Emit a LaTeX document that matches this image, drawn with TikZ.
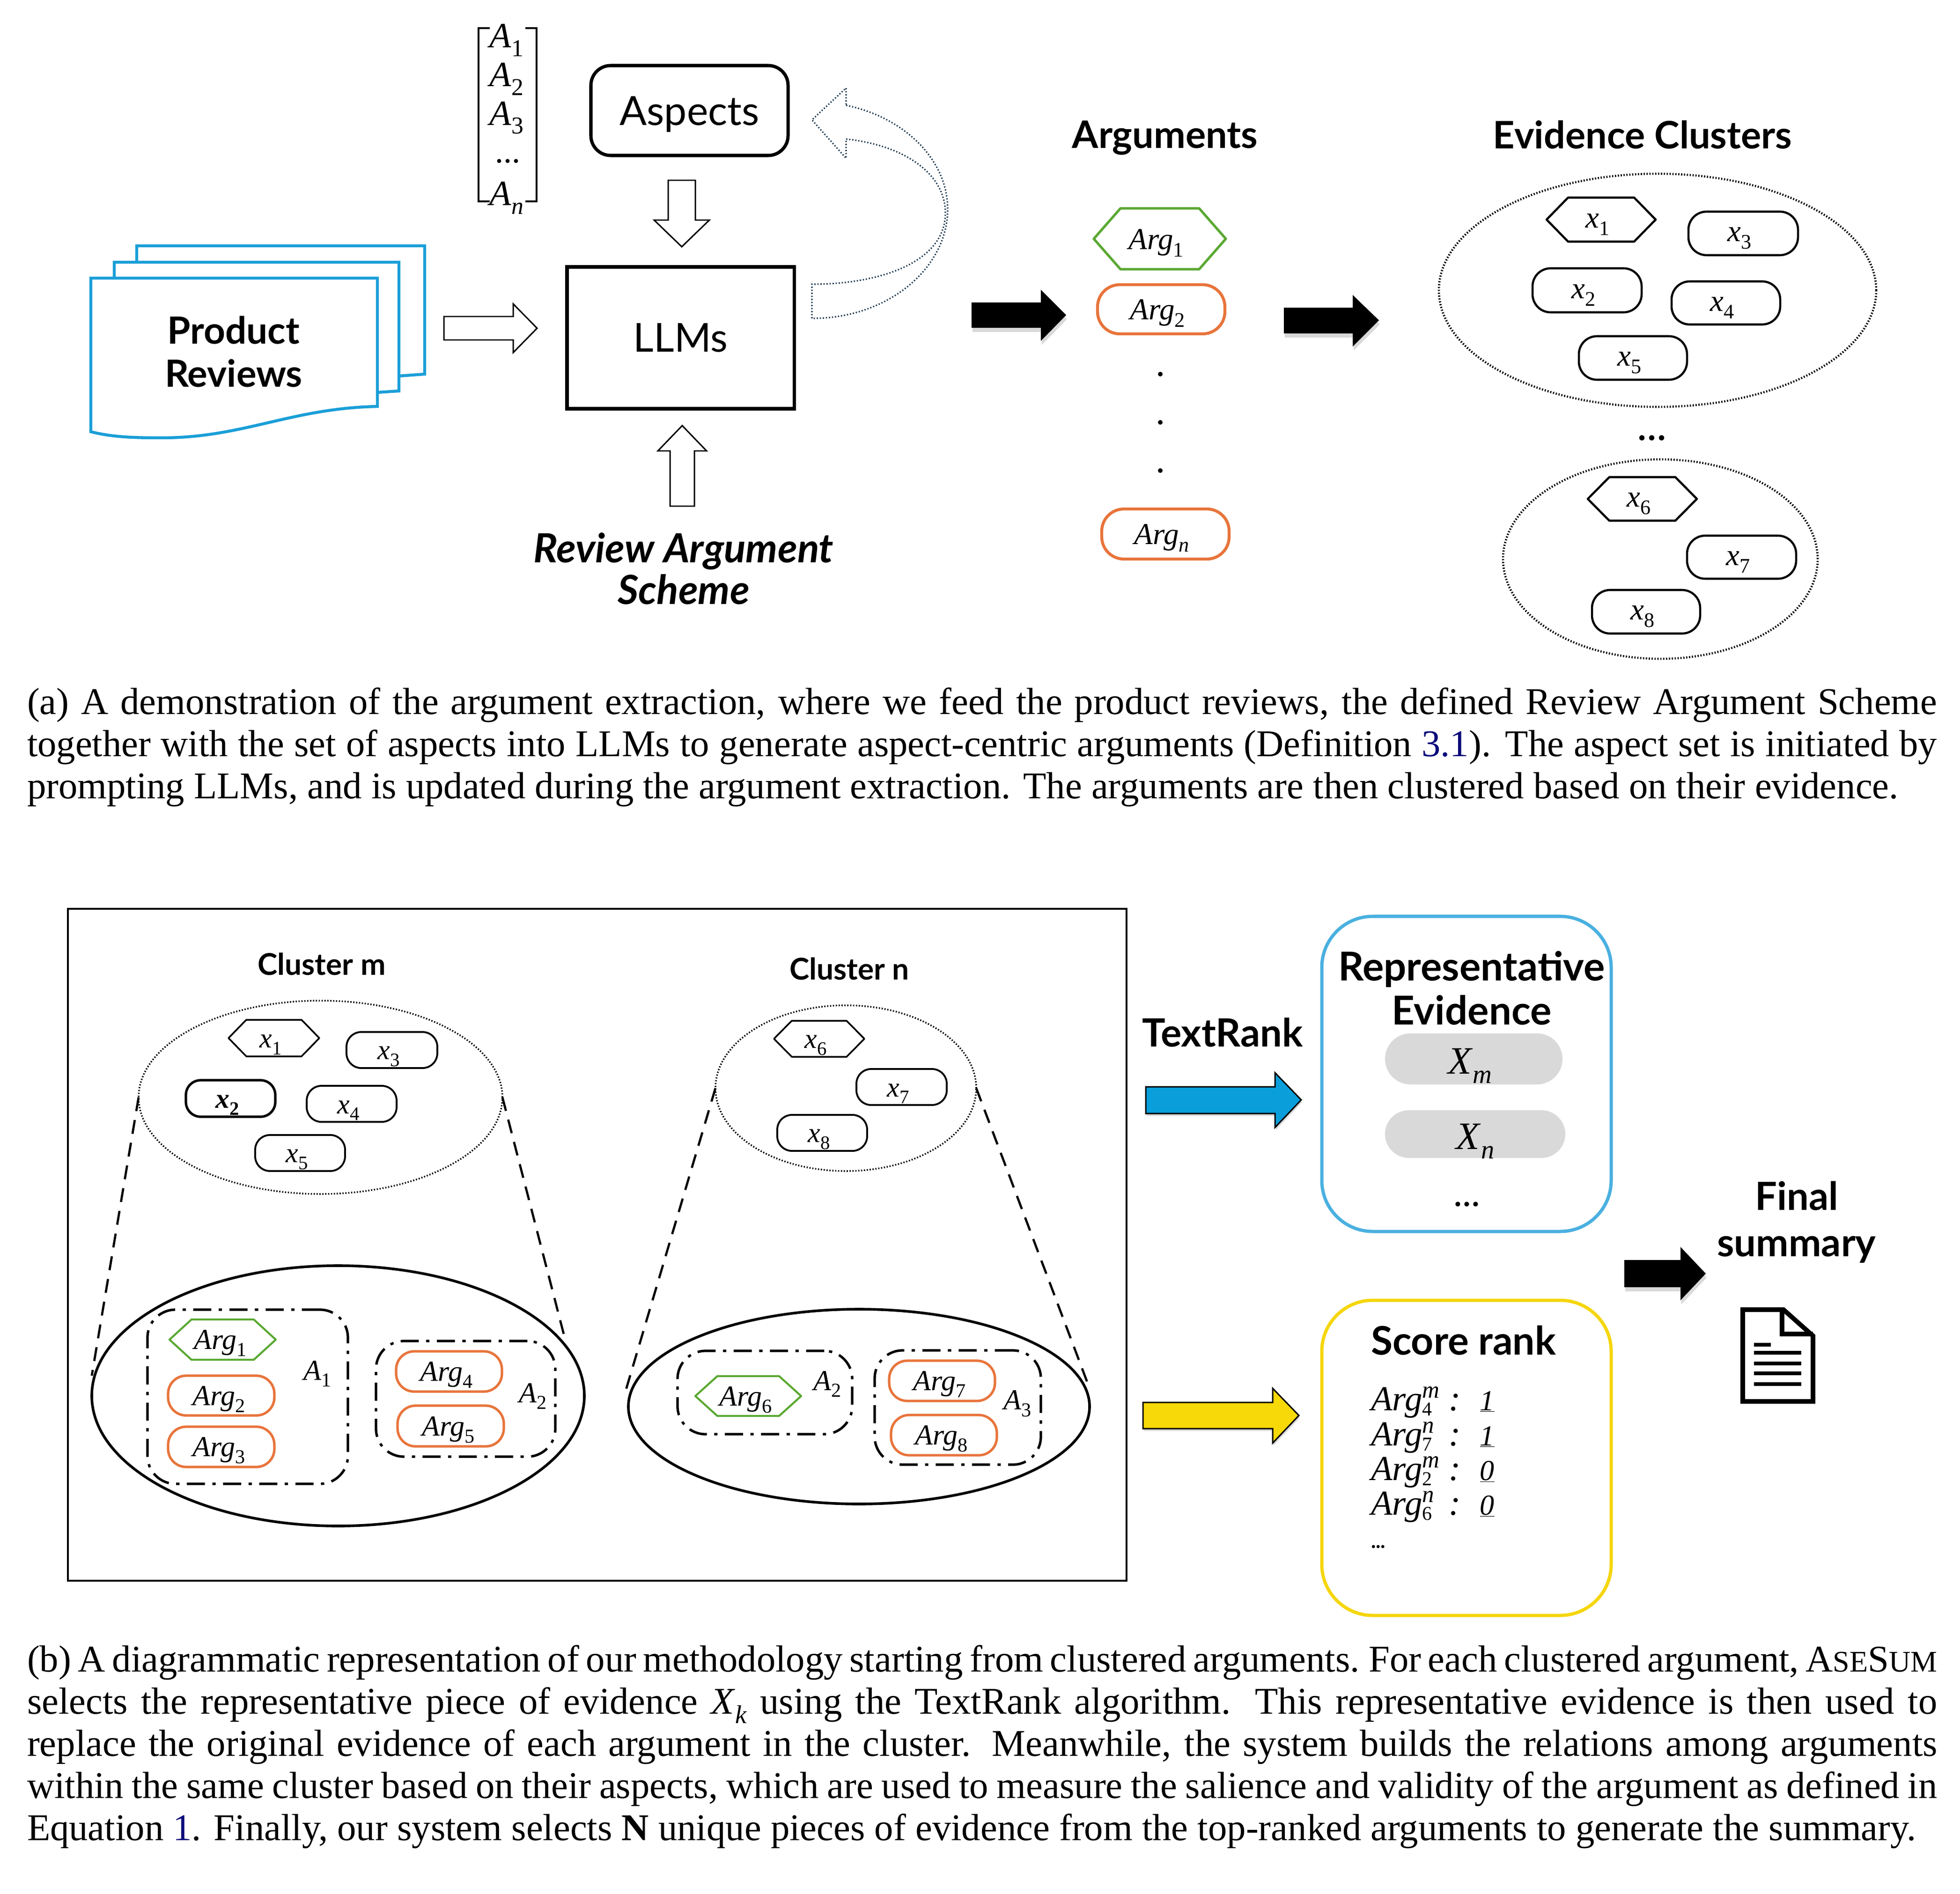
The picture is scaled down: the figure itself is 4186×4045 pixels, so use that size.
\documentclass[tikz,border=0pt]{standalone}
\usepackage{fontspec}
\setmainfont{Liberation Serif}
\newfontfamily\lato{Lato}
\usetikzlibrary{shapes.geometric,shadows}
\definecolor{docblue}{HTML}{1B9FD8}
\definecolor{arggreen}{HTML}{5AA832}
\definecolor{argorange}{HTML}{E8743B}
\definecolor{boxblue}{HTML}{4AB0E0}
\definecolor{boxyellow}{HTML}{F5D60E}
\definecolor{arrblue}{HTML}{0A9FDB}
\definecolor{arryellow}{HTML}{F7D808}
\definecolor{pillgray}{HTML}{D9D9D9}
\definecolor{linkblue}{HTML}{0B0B7A}
\definecolor{curveblue}{HTML}{1F3A50}
\newcommand\pxf[2]{\fontsize{\fpeval{#1*0.56906}pt}{\fpeval{#2*0.56906}pt}\selectfont}
\newcommand\sbt[2]{\textit{#1}\raisebox{-.24em}{\scalebox{.68}{#2}}}
\newcommand\sst[3]{\textit{#1}\rlap{\raisebox{.36em}{\scalebox{.68}{\itshape #2}}}\raisebox{-.15em}{\scalebox{.56}{#3}}}
\newcommand\lbl[3]{\raisebox{-#2}[\height][\depth]{#3}\kern #1\relax}
\newcommand\lax[1]{\lbl{9pt}{6pt}{#1}}
\newcommand\larg[1]{\lbl{9pt}{5pt}{#1}}
\newcommand\lbx[1]{\lbl{8pt}{8pt}{#1}}
\newcommand\lbarg[1]{\lbl{6pt}{4.5pt}{#1}}
\newcommand\bxn[7]{%
 \pgfmathsetmacro\cx{(#3+#5)/2}\pgfmathsetmacro\cy{(#4+#6)/2}%
 \pgfmathsetmacro\bw{(#5-#3)*0.02}\pgfmathsetmacro\bh{(#6-#4)*0.02}%
 \node[#1,minimum width=\bw cm,minimum height=\bh cm] (#2) at (\cx,\cy) {#7};}
% style, name, x1,y1,x2,y2, inset, text
\newcommand\hexn[8]{%
 \pgfmathsetmacro\cy{(#4+#6)/2}\pgfmathsetmacro\cx{(#3+#5)/2}%
 \pgfmathsetmacro\xa{#3+#7}\pgfmathsetmacro\xb{#5-#7}%
 \draw[#1] (#3,\cy)--(\xa,#4)--(\xb,#4)--(#5,\cy)--(\xb,#6)--(\xa,#6)--cycle;
 \node[hextext] (#2) at (\cx,\cy) {#8};}
\tikzset{
 x=0.02cm,y=-0.02cm,
 every node/.style={inner sep=0pt,outer sep=0pt},
 boldlabel/.style={font=\lato\bfseries,align=center},
 hextext/.style={},
 page/.style={draw=docblue,line width=3.6pt,fill=white,line join=miter},
 hollow/.style={draw=black,line width=1.7pt,fill=white,line join=miter},
 solidarrow/.style={fill=black,drop shadow={shadow xshift=1pt,shadow yshift=-5pt,opacity=.3}},
 blockbox/.style={draw=black,line width=4pt},
 curvedline/.style={draw=curveblue,line width=1.8pt,dash pattern=on 1.5pt off 2.2pt},
 dotell/.style={ellipse,draw=black,line width=2.6pt,dash pattern=on 1.5pt off 2pt},
 bigell/.style={ellipse,draw=black,line width=3.2pt},
 xpill/.style={draw=black,line width=2.6pt,rounded corners=22pt,font=\pxf{65}{70}},
 xpillb/.style={draw=black,line width=2.2pt,rounded corners=18pt,font=\pxf{60}{70}},
 xhex/.style={draw=black,line width=2.6pt,line join=round},
 xhexb/.style={draw=black,line width=2.0pt,line join=round},
 argpill/.style={draw=argorange,line width=3.6pt,rounded corners=27pt,font=\pxf{65}{70}},
 argpillb/.style={draw=argorange,line width=3pt,rounded corners=22pt,font=\pxf{62}{70}},
 arghex/.style={draw=arggreen,line width=2.4pt,line join=round},
 connector/.style={draw=black,line width=2.7pt,dash pattern=on 17pt off 11pt},
 group/.style={draw=black,line width=3pt,rounded corners=34pt,dash pattern=on 22pt off 9pt on 4pt off 9pt},
 bigbox/.style={line width=4pt,rounded corners=62pt},
 caption/.style={anchor=north west,text width=81.6cm,align=justify,font=\pxf{80.7}{90}},
}
\begin{document}
\begin{tikzpicture}
\useasboundingbox (0,0) rectangle (4186,4045);
% ---- part (a): review pages
\draw[page] (292,594)--(292,525)--(907,525)--(907,799)--(852,803);
\draw[page] (244,594)--(244,560)--(852,560)--(852,835)--(806,838);
\draw[page] (194,594)--(806,594)--(806,868) .. controls (620,872) and (520,935) .. (346,935) .. controls (290,935) and (240,934) .. (194,922) --cycle;
\node[boldlabel,font=\lato\bfseries\pxf{80}{92}] (reviews) at (499,751) {Product\\Reviews};
% arrow to LLMs
\draw[hollow] (948,676)--(1096,676)--(1096,649)--(1147,701)--(1096,753)--(1096,726)--(948,726)--cycle;
\bxn{blockbox,font=\lato\pxf{85}{90}}{llms}{1211}{570}{1696}{873}{LLMs}
\bxn{draw=black,line width=4pt,rounded corners=24pt,font=\lato\pxf{86}{90}}{aspects}{1262}{140}{1683}{332}{\raisebox{-4.5pt}[\height][\depth]{Aspects}}
% matrix
\draw[line width=2.4pt] (1046,60)--(1022,60)--(1022,430)--(1046,430);
\draw[line width=2.4pt] (1122,60)--(1146,60)--(1146,430)--(1122,430);
\node[font=\pxf{76}{80}] (ma1) at (1082,86) {\sbt{A}{1}};
\node[font=\pxf{76}{80}] (ma2) at (1082,169) {\sbt{A}{2}};
\node[font=\pxf{76}{80}] (ma3) at (1082,252) {\sbt{A}{3}};
\node[font=\pxf{72}{80}] (mad) at (1084,344) {...};
\node[font=\pxf{76}{80}] (man) at (1082,423) {\sbt{A}{\itshape n}};
% down and up arrows
\draw[hollow] (1427,385)--(1485,385)--(1485,470)--(1515,470)--(1456,527)--(1397,470)--(1427,470)--cycle;
\draw[hollow] (1431,1081)--(1483,1081)--(1483,963)--(1509,963)--(1457,909)--(1405,963)--(1431,963)--cycle;
\node[boldlabel,font=\lato\bfseries\itshape\pxf{86}{89}] (scheme) at (1460,1214) {Review Argument\\Scheme};
% curved feedback arrow
\draw[curvedline] (1807,225) .. controls (1930,250) and (2024,340) .. (2024,447) .. controls (2024,570) and (1900,680) .. (1734,680) -- (1734,607) .. controls (1880,607) and (2019,560) .. (2019,455) .. controls (2019,370) and (1930,310) .. (1807,297) -- (1807,338) -- (1734,256) -- (1807,188) -- cycle;
% black arrows
\fill[solidarrow] (2075,646)--(2223,646)--(2223,619)--(2277,673)--(2223,728)--(2223,700)--(2075,700)--cycle;
\fill[solidarrow] (2742,657)--(2889,657)--(2889,630)--(2945,684)--(2889,740)--(2889,712)--(2742,712)--cycle;
\node[boldlabel,font=\lato\bfseries\pxf{81}{90}] (arguments) at (2488,295) {Arguments};
\node[boldlabel,font=\lato\bfseries\pxf{81}{90}] (clusters) at (3508,288) {Evidence Clusters};
\hexn{arghex,line width=3pt,font=\pxf{65}{70}}{arg1}{2336}{445}{2618}{575}{57}{\pxf{65}{70}\larg{\sbt{Arg}{1}}}
\bxn{argpill}{arg2}{2344}{608}{2616}{713}{\larg{\sbt{Arg}{2}}}
\fill (2478,799) circle (5);
\fill (2478,902) circle (5);
\fill (2478,1005) circle (5);
\bxn{argpill}{argn}{2353}{1087}{2625}{1194}{\larg{\sbt{Arg}{\itshape n}}}
% evidence clusters
\bxn{dotell}{ell1}{3073}{371}{4007}{869}{}
\bxn{dotell}{ell2}{3210}{981}{3882}{1407}{}
\node[font=\lato\pxf{90}{90}] (edots) at (3528,936) {...};
\hexn{xhex}{ax1}{3303}{422}{3536}{516}{46}{\pxf{65}{70}\lax{\sbt{x}{1}}}
\bxn{xpill}{ax3}{3606}{452}{3840}{545}{\lax{\sbt{x}{3}}}
\bxn{xpill}{ax2}{3273}{573}{3506}{667}{\lax{\sbt{x}{2}}}
\bxn{xpill}{ax4}{3570}{601}{3802}{693}{\lax{\sbt{x}{4}}}
\bxn{xpill}{ax5}{3372}{718}{3603}{811}{\lax{\sbt{x}{5}}}
\hexn{xhex}{ax6}{3391}{1019}{3624}{1112}{46}{\pxf{65}{70}\lax{\sbt{x}{6}}}
\bxn{xpill}{ax7}{3603}{1144}{3836}{1236}{\lax{\sbt{x}{7}}}
\bxn{xpill}{ax8}{3400}{1260}{3631}{1353}{\lax{\sbt{x}{8}}}
% caption a
\node[caption] (capa) at (58,1469) {(a) A demonstration of the argument extraction, where we feed the product reviews, the defined Review Argument Scheme\linebreak
together with the set of aspects into LLMs to generate aspect-centric arguments (Definition \textcolor{linkblue}{3.1}). The aspect set is initiated by\linebreak
prompting LLMs, and is updated during the argument extraction. The arguments are then clustered based on their evidence.};
% ---- part (b)
\bxn{draw=black,line width=1.8pt}{frame}{145}{1941}{2406}{3376}{}
\node[boldlabel,font=\lato\bfseries\pxf{64}{70}] (cm) at (687,2059) {Cluster m};
\node[boldlabel,font=\lato\bfseries\pxf{64}{70}] (cn) at (1814,2069) {Cluster n};
\bxn{dotell,line width=2pt}{etm}{296}{2137}{1073}{2550}{}
\bxn{dotell,line width=2pt}{etn}{1528}{2147}{2085}{2501}{}
\hexn{xhexb}{bx1}{488}{2178}{682}{2256}{38}{\pxf{60}{70}\lbx{\sbt{x}{1}}}
\bxn{xpillb}{bx3}{740}{2204}{934}{2281}{\lbx{\sbt{x}{3}}}
\bxn{xpillb,line width=3pt,font=\pxf{60}{70}\bfseries}{bx2}{397}{2307}{588}{2385}{\lbx{\sbt{x}{2}}}
\bxn{xpillb}{bx4}{655}{2319}{847}{2396}{\lbx{\sbt{x}{4}}}
\bxn{xpillb}{bx5}{545}{2424}{737}{2501}{\lbx{\sbt{x}{5}}}
\hexn{xhexb}{bx6}{1653}{2180}{1846}{2257}{38}{\pxf{60}{70}\lbx{\sbt{x}{6}}}
\bxn{xpillb}{bx7}{1829}{2283}{2022}{2360}{\lbx{\sbt{x}{7}}}
\bxn{xpillb}{bx8}{1660}{2381}{1852}{2458}{\lbx{\sbt{x}{8}}}
\bxn{bigell}{ebm}{196}{2703}{1248}{3259}{}
\bxn{bigell}{ebn}{1342}{2796}{2327}{3212}{}
\coordinate (c1) at (196,2938);
\coordinate (c2) at (1205,2853);
\coordinate (c3) at (1336,2971);
\coordinate (c4) at (2324,2957);
\draw[connector] (etm.west) -- (c1);
\draw[connector] (etm.east) -- (c2);
\draw[connector] (etn.west) -- (c3);
\draw[connector] (etn.east) -- (c4);
\bxn{group}{ga1}{315}{2797}{743}{3169}{}
\bxn{group}{ga2}{803}{2864}{1186}{3111}{}
\bxn{group}{gb2}{1447}{2885}{1820}{3063}{}
\bxn{group}{gb3}{1868}{2884}{2223}{3128}{}
\hexn{arghex}{barg1}{362}{2818}{589}{2904}{47}{\pxf{62}{70}\lbarg{\sbt{Arg}{1}}}
\bxn{argpillb}{barg2}{359}{2938}{586}{3023}{\lbarg{\sbt{Arg}{2}}}
\bxn{argpillb}{barg3}{359}{3047}{586}{3133}{\lbarg{\sbt{Arg}{3}}}
\bxn{argpillb}{barg4}{846}{2886}{1072}{2972}{\lbarg{\sbt{Arg}{4}}}
\bxn{argpillb}{barg5}{849}{3002}{1076}{3089}{\lbarg{\sbt{Arg}{5}}}
\hexn{arghex}{barg6}{1485}{2939}{1711}{3024}{47}{\pxf{62}{70}\lbarg{\sbt{Arg}{6}}}
\bxn{argpillb}{barg7}{1899}{2906}{2125}{2992}{\lbarg{\sbt{Arg}{7}}}
\bxn{argpillb}{barg8}{1903}{3022}{2129}{3108}{\lbarg{\sbt{Arg}{8}}}
\node[font=\pxf{62}{70}] (la1) at (678,2934) {\sbt{A}{1}};
\node[font=\pxf{62}{70}] (la2) at (1138,2982) {\sbt{A}{2}};
\node[font=\pxf{62}{70}] (lb2) at (1767,2956) {\sbt{A}{2}};
\node[font=\pxf{62}{70}] (lb3) at (2173,2998) {\sbt{A}{3}};
% TextRank and coloured arrows
\node[boldlabel,font=\lato\bfseries\pxf{83}{90}] (textrank) at (2611,2205) {TextRank};
\draw[draw=black,line width=1.7pt,fill=arrblue,drop shadow={shadow xshift=1pt,shadow yshift=-3pt,opacity=.3}] (2447,2321)--(2723,2321)--(2723,2291)--(2779,2349)--(2723,2408)--(2723,2378)--(2447,2378)--cycle;
\draw[draw=black,line width=1.7pt,fill=arryellow,drop shadow={shadow xshift=1pt,shadow yshift=-3pt,opacity=.3}] (2441,2995)--(2718,2995)--(2718,2965)--(2774,3023)--(2718,3082)--(2718,3051)--(2441,3051)--cycle;
% representative evidence box
\bxn{draw=boxblue,bigbox}{repbox}{2823}{1957}{3441}{2630}{}
\node[boldlabel,font=\lato\bfseries\pxf{85}{94}] (rep) at (3143,2110) {Representative\\Evidence};
\bxn{fill=pillgray,rounded corners=31pt,font=\pxf{83}{90}}{xm}{2958}{2207}{3337}{2316}{\lbl{9pt}{8.5pt}{\sbt{X}{\itshape m}}}
\bxn{fill=pillgray,rounded corners=29pt,font=\pxf{83}{90}}{xn}{2958}{2371}{3343}{2473}{\lbl{0pt}{8.5pt}{\sbt{X}{\itshape n}}}
\node[font=\lato\pxf{80}{80}] (rdots) at (3133,2572) {...};
% score rank box
\bxn{draw=boxyellow,bigbox}{scorebox}{2823}{2777}{3441}{3450}{}
\node[boldlabel,font=\lato\bfseries\pxf{84}{90},anchor=base west] (score) at (2928,2893) {Score rank};
\foreach \nm/\yy/\su/\sb/\val in {r1/3012/m/4/1,r2/3087/n/7/1,r3/3161/m/2/0,r4/3235/n/6/0}{
 \node[anchor=base west,font=\pxf{75}{80}] (\nm a) at (2928,\yy) {\sst{Arg}{\su}{\sb}};
 \node[anchor=base,font=\pxf{76}{80}] (\nm c) at (3107,\yy) {\textit{:}};
 \node[anchor=base,font=\pxf{62}{80}] (\nm v) at (3176,\yy) {\underline{\textit{\val}}};
}
\node[anchor=base west,font=\lato\bfseries\pxf{44}{50}] (sdots) at (2928,3306) {...};
% final summary
\fill[solidarrow] (3469,2691)--(3589,2691)--(3589,2663)--(3643,2720)--(3589,2777)--(3589,2749)--(3469,2749)--cycle;
\node[boldlabel,font=\lato\bfseries\pxf{83}{99}] (final) at (3837,2610) {Final\\summary};
\draw[line width=5.6pt,line join=miter] (3722,2797)--(3809,2797)--(3872,2853)--(3872,2993)--(3722,2993)--cycle;
\draw[line width=5.6pt] (3806,2797)--(3806,2849)--(3872,2849);
\draw[line width=5pt] (3746,2872)--(3782,2872);
\draw[line width=5pt] (3746,2889)--(3847,2889);
\draw[line width=5pt] (3746,2912)--(3847,2912);
\draw[line width=5pt] (3746,2933)--(3847,2933);
\draw[line width=5pt] (3746,2956)--(3847,2956);
% caption b
\node[caption] (capb) at (58,3514) {{\spaceskip=.19em plus .2em minus .05em\xspaceskip=.25em plus .2em minus .05em (b) A diagrammatic representation of our methodology starting from clustered arguments. For each clustered argument, A{\pxf{64}{90}SE}S{\pxf{64}{90}UM}}\linebreak
selects the representative piece of evidence \sbt{X}{\itshape k} using the TextRank algorithm. This representative evidence is then used to\linebreak
replace the original evidence of each argument in the cluster. Meanwhile, the system builds the relations among arguments\linebreak
within the same cluster based on their aspects, which are used to measure the salience and validity of the argument as defined in\linebreak
Equation \textcolor{linkblue}{1}. Finally, our system selects \textbf{N} unique pieces of evidence from the top-ranked arguments to generate the summary.};
\end{tikzpicture}
\end{document}
